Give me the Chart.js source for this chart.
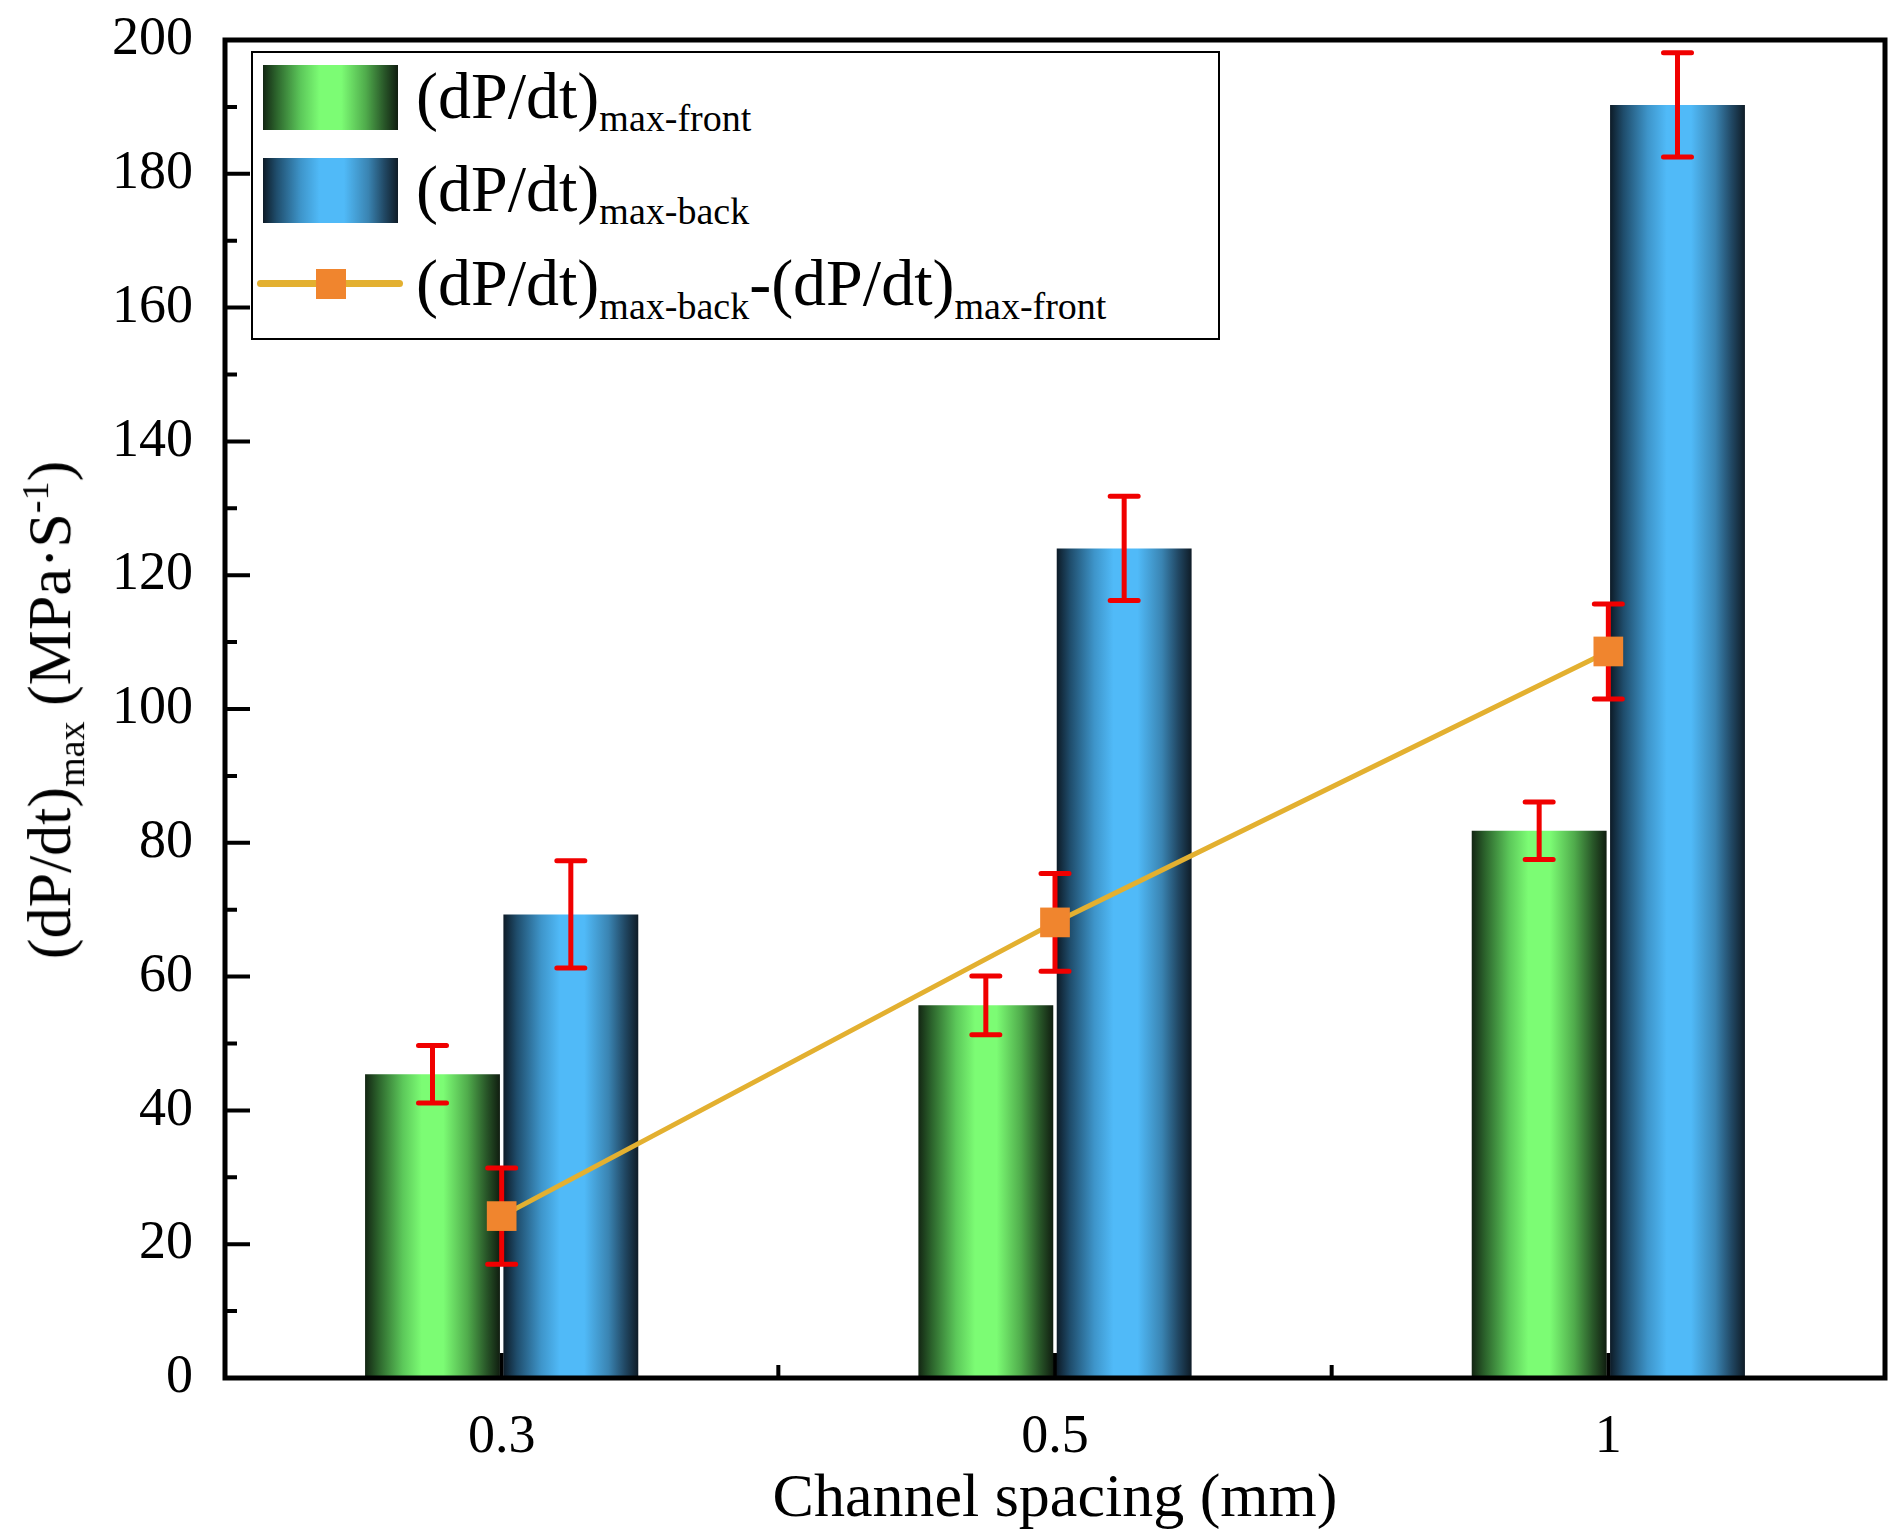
<!DOCTYPE html>
<html>
<head>
<meta charset="utf-8">
<script src="https://cdn.jsdelivr.net/npm/chart.js@4.4.0/dist/chart.umd.min.js"></script>
<style>
html,body{margin:0;padding:0;background:#fff;}
#wrap{position:relative;width:1890px;height:1537px;font-family:"Liberation Serif","Times New Roman",serif;color:#000;overflow:hidden;}
#c{position:absolute;left:0;top:0;}
.t{position:absolute;white-space:nowrap;line-height:1;}
.lg{font-size:66px;left:416px;}
.sb{font-size:38px;position:relative;top:13px;}
#ytitle{left:0;top:0;font-size:62px;transform-origin:0 0;transform:translate(70px,710px) rotate(-90deg) translate(-50%,-51.9px);}
#ytitle .sub{font-size:38px;position:relative;top:14px;}
#ytitle .sup{font-size:38px;position:relative;top:-22px;}
#legbox{position:absolute;left:251px;top:51px;width:969px;height:289px;box-sizing:border-box;border:2px solid #000;background:#fff;}
.sw{position:absolute;left:263px;width:135px;height:65px;}
</style>
</head>
<body>
<div id="wrap">
<canvas id="c" width="1890" height="1537"></canvas>
<div id="legbox"></div>
<div class="sw" id="swFront" style="top:65px;"></div>
<div class="sw" id="swBack" style="top:158px;"></div>
<div style="position:absolute;left:257px;top:280px;width:146px;height:7px;border-radius:4px;background:#e3b030;"></div>
<div style="position:absolute;left:316px;top:269px;width:30px;height:30px;background:#f0852e;"></div>
<div class="t lg" style="top:62.7px;">(dP/dt)<span class="sb">max-front</span></div>
<div class="t lg" style="top:155.7px;">(dP/dt)<span class="sb">max-back</span></div>
<div class="t lg" style="top:249.7px;">(dP/dt)<span class="sb" style="top:14px;">max-back</span>-(dP/dt)<span class="sb" style="top:14px;">max-front</span></div>
<div class="t" id="ytitle">(dP/dt)<span class="sub">max</span> (MPa·S<span class="sup">-1</span>)</div>
</div>
<script>
// ---- data ----
const categories = ['0.3', '0.5', '1'];
const frontValues = [45.4, 55.7, 81.8];
const frontErrors = [4.3, 4.4, 4.3];
const backValues = [69.3, 124.0, 190.3];
const backErrors = [8.0, 7.8, 7.8];
const diffValues = [24.2, 68.1, 108.6];
const diffErrors = [7.2, 7.3, 7.1];
const yMin = 0, yMax = 200, yStep = 20;

// ---- styles ----
const greenStops = [[0,'#132613'],[0.1,'#2c642c'],[0.28,'#5cc85a'],[0.42,'#7cfc74'],[0.58,'#7cfc74'],[0.76,'#50ac4c'],[0.9,'#285628'],[1,'#101d10']];
const blueStops = [[0,'#0d1b27'],[0.1,'#1f4d6c'],[0.28,'#3e95ca'],[0.42,'#50baf8'],[0.6,'#50baf8'],[0.78,'#3a84b2'],[0.9,'#214864'],[1,'#0f1c27']];

function cssGrad(stops){
  return 'linear-gradient(to right,' + stops.map(s => s[1] + ' ' + (s[0]*100) + '%').join(',') + ')';
}
document.getElementById('swFront').style.background = cssGrad(greenStops);
document.getElementById('swBack').style.background = cssGrad(blueStops);

function barGradient(stops){
  return (c) => {
    const el = c.element;
    if (!el || !isFinite(el.x) || !el.width) return stops[3][1];
    const g = c.chart.ctx.createLinearGradient(el.x - el.width/2, 0, el.x + el.width/2, 0);
    stops.forEach(s => g.addColorStop(s[0], s[1]));
    return g;
  };
}

const errorSets = [frontErrors, backErrors, diffErrors];
const valueSets = [frontValues, backValues, diffValues];

function drawErrors(chart){
  const ctx = chart.ctx, ys = chart.scales.y;
  ctx.save();
  ctx.strokeStyle = '#f00000';
  ctx.lineWidth = 5;
  ctx.lineCap = 'round';
  for (let d = 0; d < 3; d++){
    const meta = chart.getDatasetMeta(d);
    meta.data.forEach((el, i) => {
      const v = valueSets[d][i], e = errorSets[d][i];
      const yt = ys.getPixelForValue(v + e), yb = ys.getPixelForValue(v - e);
      const x = el.x;
      ctx.beginPath();
      ctx.moveTo(x, yt); ctx.lineTo(x, yb);
      ctx.moveTo(x - 14, yt); ctx.lineTo(x + 14, yt);
      ctx.moveTo(x - 14, yb); ctx.lineTo(x + 14, yb);
      ctx.stroke();
    });
  }
  ctx.restore();
}

const decor = {
  id: 'decor',
  beforeDatasetsDraw(chart){
    const ctx = chart.ctx, a = chart.chartArea, xs = chart.scales.x, ys = chart.scales.y;
    ctx.save();
    ctx.strokeStyle = '#000';
    ctx.lineWidth = 4;
    ctx.beginPath();
    const yt = ys.ticks.map(t => t.value);
    yt.forEach((v, i) => {
      const y = ys.getPixelForValue(v);
      ctx.moveTo(a.left, y); ctx.lineTo(a.left + 25, y);
      if (i < yt.length - 1){
        const ym = (y + ys.getPixelForValue(yt[i+1])) / 2;
        ctx.moveTo(a.left, ym); ctx.lineTo(a.left + 12, ym);
      }
    });
    const n = categories.length;
    for (let i = 0; i < n; i++){
      const x = xs.getPixelForValue(i);
      ctx.moveTo(x, a.bottom); ctx.lineTo(x, a.bottom - 25);
      if (i < n - 1){
        const xm = (x + xs.getPixelForValue(i + 1)) / 2;
        ctx.moveTo(xm, a.bottom); ctx.lineTo(xm, a.bottom - 13);
      }
    }
    ctx.stroke();
    ctx.restore();
  },
  beforeDatasetDraw(chart, args){
    if (args.index === 2) drawErrors(chart);
  },
  afterDraw(chart){
    const ctx = chart.ctx, a = chart.chartArea;
    ctx.save();
    ctx.strokeStyle = '#000';
    ctx.lineWidth = 5;
    ctx.strokeRect(a.left, a.top, a.right - a.left, a.bottom - a.top);
    ctx.restore();
  }
};

const tickFont = {family: '"Liberation Serif","Times New Roman",serif', size: 54};

const chart = new Chart(document.getElementById('c'), {
  type: 'bar',
  data: {
    labels: categories,
    datasets: [
      {type: 'bar', label: '(dP/dt)max-front', data: frontValues, backgroundColor: barGradient(greenStops), borderWidth: 0, categoryPercentage: 0.5, barPercentage: 0.975, order: 1},
      {type: 'bar', label: '(dP/dt)max-back', data: backValues, backgroundColor: barGradient(blueStops), borderWidth: 0, categoryPercentage: 0.5, barPercentage: 0.975, order: 1},
      {type: 'line', label: '(dP/dt)max-back-(dP/dt)max-front', data: diffValues, borderColor: '#e3b030', borderWidth: 5, pointStyle: 'rect', pointRadius: 21, pointHoverRadius: 21, pointBackgroundColor: '#f0852e', pointBorderWidth: 0, tension: 0, order: 0}
    ]
  },
  options: {
    responsive: false,
    animation: false,
    devicePixelRatio: 1,
    layout: {autoPadding: false, padding: {top: 40, right: 5, left: 0, bottom: 0}},
    plugins: {legend: {display: false}, tooltip: {enabled: false}},
    scales: {
      x: {
        grid: {display: false, drawTicks: false, tickLength: 0},
        border: {display: false},
        ticks: {font: tickFont, color: '#000', padding: 27},
        title: {display: true, text: 'Channel spacing (mm)', color: '#000', font: {family: '"Liberation Serif","Times New Roman",serif', size: 62, lineHeight: 1.2}, padding: {top: 0, bottom: 0}},
        afterFit(s){ s.height = 159; s.paddingLeft = 0; s.paddingRight = 0; }
      },
      y: {
        min: yMin, max: yMax,
        grid: {display: false, drawTicks: false, tickLength: 0},
        border: {display: false},
        ticks: {stepSize: yStep, font: tickFont, color: '#000', padding: 32},
        afterFit(s){ s.width = 225; s.paddingTop = 0; s.paddingBottom = 0; }
      }
    }
  },
  plugins: [decor]
});
chart.update();
</script>
</body>
</html>
